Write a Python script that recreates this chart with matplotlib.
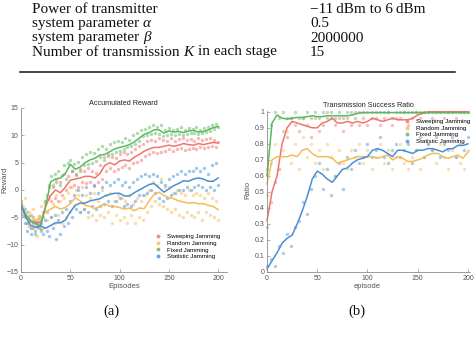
import matplotlib
matplotlib.use("Agg")
import matplotlib.pyplot as plt
from matplotlib.lines import Line2D
import numpy as np

# ---------------- data ----------------
series_names = ["Sweeping Jamming", "Random Jamming", "Fixed Jamming", "Statistic Jamming"]
colors = ["#F0736D", "#F5BC55", "#5CB860", "#4A8FD6"]

line_ep = list(range(0, 201, 5))
sc_ep_a = list(range(0, 201, 2))
sc_ep_b = list(range(0, 201, 4))

# (a) Accumulated reward: smoothed lines
reward_sweep_line = [-3, -4.8, -5.5, -6, -6, -3, -1, 0, -0.5, 0.5, 1.8, 2, 2.2, 2.5, 2.5, 2.2, 3, 4.5, 5, 4.6,
                     5.3, 5.5, 5.3, 6, 6.5, 7.1, 7.5, 7.8, 7.8, 8, 8.2, 8, 8.2, 8.5, 8.3, 8.2, 8.5, 8.3, 8.5, 8.7, 8.6]
reward_random_line = [-3, -5, -5.5, -5.5, -5, -4, -3.5, -3, -3.5, -3.2, -2.5, -1.4, -2, -2.8, -3, -3.4, -3, -2.5, -3, -3,
                      -3.2, -3.5, -3.3, -3.8, -3.3, -3.4, -2, -0.8, -0.4, -1, -1.4, -1.6, -2, -2.2, -2.4, -2.3, -2.5, -2.5, -2.8, -3, -3.6]
reward_fixed_line = [-3, -4.5, -5.8, -6.2, -6.5, -3, 1.5, 2, 2.2, 3, 4.7, 3.8, 4.2, 5, 5.5, 5.8, 6.4, 6.5, 7, 7.5,
                     7.8, 8, 8.3, 8.8, 9.5, 10.2, 10.5, 11, 11, 10.4, 10.8, 10.6, 10.7, 10.5, 10.8, 10.9, 10.6, 10.7, 11, 11.4, 11.6]
reward_stat_line = [-2.5, -5, -6.5, -6.8, -6.6, -7, -6.5, -6, -6, -5.5, -4, -2.8, -2.4, -2.4, -2, -1.8, -1.6, -1.1, -0.8, -0.6,
                    -0.6, -1.1, -1.1, -0.5, 0, 0.5, 1, 1.2, 0.4, -0.4, 0.2, 0.8, 1.2, 1.7, 1.6, 2, 2.2, 2, 1.6, 1.6, 2.2]

# (a) raw points
reward_sweep_pts = [-2, -3.5, -5, -4, -6.5, -4.5, -7, -5.5, -6.8, -4.8, -7.2, -4, -2.5, -4, 0.5, -2, 1, -1.5, 2, -2,
                    1.5, -1, 3, 0, 2.5, 0.5, 3.5, 1, 3, 0.5, 3.8, 1.5, 3.5, 1.2, 4, 1.5, 3.5, 0.8, 3.2, 1.5,
                    4.5, 2, 6, 3.5, 6.5, 4, 6, 3.5, 5.8, 3.8, 6.5, 4.2, 7, 4.5, 6.5, 4, 7, 5, 7.5, 5.2,
                    8, 5.5, 8.5, 6.2, 9, 6.5, 9.2, 7, 9, 6.8, 9.5, 7, 9.2, 7.2, 9, 7.5, 9.5, 7.2, 9, 7.5,
                    9.3, 7.6, 9.5, 7.4, 9.2, 7.5, 9.4, 7.6, 9, 7.5, 9.5, 7.8, 9.2, 7.6, 9.4, 7.8, 9.5, 8, 9.2, 7.8, 8.8]
reward_random_pts = [-2, -3, -1.5, -6, -4, -7, -3.5, -6.5, -8.5, -5, -3, -7, -2, -5.5, -1.5, -5, -2.5, -6, -1, -4.5,
                     -2, -6, -1.5, -5, -0.5, -4, 0.5, -3, 0, -1, -4, 0.5, -3.5, -1, -5, -1.5, -4.5, -0.5, -5.5, -2,
                     -4.5, 0, -5, -1, -4, -0.5, -6, -2, -4.5, -1, -5.5, -1.5, -5, -2, -6, -1, -4.5, -2.5, -6, -1.5,
                     -5, -2, -5.5, -1, -4, 0, -3, 1.5, -2, 1, -2.5, 2, -3, 0.5, -3.5, 0.5, -4, -0.5, -3.5, 0,
                     -4.5, -0.5, -5, -1, -4, 0, -4.5, -1, -5, -0.5, -4, -1, -5.5, -1.5, -4, -0.5, -4.5, -1.5, -5, -2, -5.5]
reward_fixed_pts = [-2.5, -4, -3.5, -6, -4.8, -7, -5, -8, -6.5, -5.5, -7.5, -5, -2, -1, 1, 2.5, 0.5, 3, 1.5, 3.5,
                    1, 2.8, 4.5, 2, 5, 5.5, 3.5, 4.8, 2.8, 5.2, 3.5, 6, 4.5, 6.5, 4.8, 7, 5, 6.8, 5.3, 7.5,
                    6, 8, 5.5, 7.5, 6.2, 8.5, 6.5, 8.8, 7, 9, 7.2, 8.8, 7.5, 9.5, 7.8, 9.2, 8, 10, 8.5, 10.5,
                    9, 11, 9.8, 11.2, 10, 11.5, 10.2, 11.8, 10.5, 11.5, 10.2, 11.8, 9.8, 11, 10, 11.3, 10.2, 11, 10, 11.2,
                    10.3, 11.5, 10, 11, 10.3, 11.4, 10.5, 11.2, 10.4, 11.5, 10.2, 11, 10.5, 11.3, 10.6, 11.5, 10.8, 11.8, 11.2, 12, 11.5]
reward_stat_pts = [-3, -4.5, -6, -7.5, -5.5, -8, -6, -7.5, -5.8, -7, -6, -8, -5.5, -7.5, -8.5, -5, -7, -4.5, -9, -5.5,
                   -8, -4, -6.5, -3.5, -6, -2, -5, -1, -3.5, 0, -4, -1, -3.5, 0.5, -4, -0.5, -3, 1, -3.5, -0.5,
                   -3, 0.5, -2.5, 1.5, -2, 1, -3, 1.5, -2, 2, -1.5, 1, -3, 1.5, -2.5, 0.5, -3, 1.5, -2, 2,
                   -1, 2.5, -1, 3, -0.5, 2.5, 0, 3, -0.5, 2.5, -1.5, 1.5, -2, 1, -1.5, 2, -1, 2.5, -0.5, 3,
                   0, 3.5, 0, 3, 0.5, 3.5, 0, 3.5, 0.5, 4, 1, 3.5, 0.5, 4, 0, 3, 0.5, 4.5, 0, 5, 1]

# (b) Transmission success ratio: smoothed lines
ratio_sweep_line = [0.32, 0.5, 0.6, 0.8, 0.9, 0.94, 0.93, 0.92, 0.91, 0.9, 0.9, 0.93, 0.94, 0.96, 0.93, 0.93, 0.94, 0.93, 0.94, 0.93,
                    0.94, 0.96, 0.95, 0.94, 0.95, 0.96, 0.95, 0.95, 0.95, 0.96, 0.98, 0.99, 1.0, 1.0, 1.0, 1.0, 1.0, 1.0, 1.0, 1.0, 1.0]
ratio_random_line = [0.55, 0.7, 0.72, 0.72, 0.72, 0.73, 0.72, 0.76, 0.77, 0.74, 0.72, 0.72, 0.72, 0.71, 0.68, 0.69, 0.7, 0.71, 0.72, 0.72,
                     0.72, 0.72, 0.71, 0.72, 0.73, 0.7, 0.72, 0.71, 0.69, 0.69, 0.7, 0.71, 0.73, 0.74, 0.74, 0.72, 0.71, 0.72, 0.73, 0.71, 0.75]
ratio_fixed_line = [0.6, 0.93, 0.98, 0.96, 0.955, 0.96, 0.965, 0.965, 0.97, 0.975, 0.97, 0.97, 0.975, 0.975, 0.975, 0.975, 0.975, 0.98, 0.99, 0.995,
                    0.995, 0.995, 0.995, 0.995, 0.995, 0.995, 0.995, 0.995, 0.995, 0.995, 0.995, 0.995, 0.995, 0.995, 0.995, 0.995, 0.995, 0.995, 0.995, 0.995, 0.995]
ratio_stat_line = [0.02, 0.07, 0.12, 0.18, 0.21, 0.23, 0.3, 0.38, 0.47, 0.58, 0.63, 0.61, 0.58, 0.56, 0.6, 0.64, 0.65, 0.68, 0.7, 0.71,
                   0.72, 0.76, 0.77, 0.76, 0.74, 0.72, 0.76, 0.76, 0.75, 0.74, 0.76, 0.76, 0.77, 0.77, 0.76, 0.75, 0.77, 0.77, 0.79, 0.79, 0.8]

# (b) raw points
ratio_sweep_pts = [0.28, 0.44, 0.56, 0.64, 0.88, 0.84, 0.96, 0.92, 0.88, 0.96, 0.92, 0.84, 0.96, 0.88, 0.92, 1, 0.96, 0.92, 0.96, 0.88,
                   0.96, 0.92, 1, 0.92, 0.96, 0.92, 1, 0.96, 0.92, 0.96, 1, 0.92, 0.96, 0.96, 1, 0.92, 0.96, 1, 0.96, 1,
                   1, 0.96, 1, 1, 0.96, 1, 1, 0.96, 1, 1, 1]
ratio_random_pts = [0.48, 0.68, 0.8, 0.64, 0.76, 0.88, 0.68, 0.8, 0.64, 0.84, 0.72, 0.8, 0.68, 0.76, 0.64, 0.8, 0.72, 0.6, 0.76, 0.68,
                    0.64, 0.76, 0.72, 0.8, 0.68, 0.76, 0.64, 0.72, 0.8, 0.68, 0.76, 0.64, 0.72, 0.8, 0.68, 0.64, 0.72, 0.76, 0.64, 0.72,
                    0.8, 0.76, 0.68, 0.8, 0.72, 0.64, 0.76, 0.72, 0.68, 0.64, 0.76]
ratio_fixed_pts = [0.64, 0.92, 1, 0.96, 1, 0.96, 0.96, 1, 0.96, 0.96, 1, 0.96, 1, 0.96, 1, 0.96, 1, 0.96, 1, 0.96,
                   1, 1, 0.96, 1, 1, 1, 0.96, 1, 1, 1, 1, 0.96, 1, 1, 1, 1, 1, 1, 1, 1,
                   1, 1, 1, 1, 1, 1, 1, 1, 1, 1, 1]
ratio_stat_pts = [0.04, 0.08, 0.04, 0.16, 0.12, 0.24, 0.16, 0.28, 0.32, 0.44, 0.36, 0.52, 0.6, 0.68, 0.52, 0.64, 0.48, 0.6, 0.68, 0.52,
                  0.72, 0.64, 0.76, 0.68, 0.72, 0.8, 0.72, 0.76, 0.84, 0.72, 0.68, 0.76, 0.8, 0.72, 0.76, 0.8, 0.68, 0.76, 0.84, 0.72,
                  0.8, 0.76, 0.84, 0.72, 0.8, 0.76, 0.84, 0.72, 0.8, 0.76, 0.84]

# table rows: pieces of (text, style)
table_left = [[("Power of transmitter", "normal")],
              [("system parameter", "normal"), ("\u03b1", "italic")],
              [("system parameter", "normal"), ("\u03b2", "italic")],
              [("Number of transmission", "normal"), ("K", "italic"), ("in each stage", "normal")]]
table_right = ["\u221211\u2009dBm to 6\u2009dBm", "0.5", "2000000", "15"]

# ---------------- figure ----------------
W, H = 474, 341
fig = plt.figure(figsize=(W / 100, H / 100), dpi=100)
renderer = fig.canvas.get_renderer()

def fx(px):
    return px / W

def fy(py):
    return 1 - py / H

serif = ['Liberation Serif', 'DejaVu Serif']
sans = ['Liberation Sans', 'DejaVu Sans']
tfs = 11
space_px = 0.25 * tfs * 100 / 72

# table part
row_base = [13, 27.3, 41.5, 55.5]
for parts, right, y in zip(table_left, table_right, row_base):
    x = 32
    for s, st in parts:
        t = fig.text(fx(x), fy(y), s, family=serif, style=st, fontsize=tfs, va='baseline', ha='left', color='#111111')
        bb = t.get_window_extent(renderer)
        x = bb.x1 + space_px + (1.0 if st == 'italic' else 0.0)
    fig.text(fx(310), fy(y), right, family=serif, fontsize=tfs, va='baseline', ha='left', color='#111111')
fig.add_artist(Line2D([fx(20), fx(455)], [fy(72), fy(72)], color='#111111', lw=1.1))

grey = '#8c8c8c'
tick_col = '#555555'

def style_axes(ax):
    for s in ['top', 'right']:
        ax.spines[s].set_visible(False)
    for s in ['left', 'bottom']:
        ax.spines[s].set_color(grey)
        ax.spines[s].set_linewidth(0.6)
    ax.tick_params(direction='in', length=2, width=0.5, colors=grey, labelcolor=tick_col,
                   labelsize=5, pad=2)
    ax.patch.set_alpha(0)

# ---- (a)
axa = fig.add_axes([fx(21), fy(272), fx(227) - fx(21), fy(108) - fy(272)])
style_axes(axa)
a_lines = [reward_sweep_line, reward_random_line, reward_fixed_line, reward_stat_line]
a_pts = [reward_sweep_pts, reward_random_pts, reward_fixed_pts, reward_stat_pts]
for pts, c in zip(a_pts, colors):
    axa.scatter(sc_ep_a, pts, s=6, color=c, alpha=0.5, linewidths=0)
for ln, c in zip(a_lines, colors):
    axa.plot(line_ep, ln, color=c, lw=1.1)
axa.set_xlim(0, 209)
axa.set_ylim(-15, 15)
axa.set_xticks([0, 50, 100, 150, 200])
axa.set_yticks([-15, -10, -5, 0, 5, 10, 15])
for t in axa.get_xticklabels() + axa.get_yticklabels():
    t.set_family(sans)
fig.text(fx(123), fy(104), "Accumulated Reward", family=sans, fontsize=5.2, ha='center', va='center', color='#222222')
fig.text(fx(124), fy(287), "Episodes", family=sans, fontsize=5.5, ha='center', va='center', color=tick_col)
fig.text(fx(5), fy(180), "Reward", family=sans, fontsize=5.5, ha='center', va='center', rotation=90, color=tick_col)
handles = [Line2D([], [], ls='none', marker='o', ms=2.8, color=c, alpha=0.8, mec='none') for c in colors]
axa.legend(handles, series_names, loc='lower right', bbox_to_anchor=(0.985, 0.055), frameon=False,
           prop={'family': sans, 'size': 4.4}, handletextpad=0.8, labelspacing=0.25, handlelength=1.2,
           borderaxespad=0.2)

# ---- (b)
axb = fig.add_axes([fx(267), fy(272), fx(470) - fx(267), fy(111) - fy(272)])
style_axes(axb)
b_lines = [ratio_sweep_line, ratio_random_line, ratio_fixed_line, ratio_stat_line]
b_pts = [ratio_sweep_pts, ratio_random_pts, ratio_fixed_pts, ratio_stat_pts]
for pts, c in zip(b_pts, colors):
    axb.scatter(sc_ep_b, pts, s=6, color=c, alpha=0.45, linewidths=0, clip_on=False)
for ln, c in zip(b_lines, colors):
    axb.plot(line_ep, ln, color=c, lw=1.1, clip_on=False)
axb.set_xlim(0, 202)
axb.set_ylim(0, 1.005)
axb.set_xticks([0, 50, 100, 150, 200])
axb.set_yticks([0, 0.1, 0.2, 0.3, 0.4, 0.5, 0.6, 0.7, 0.8, 0.9, 1.0])
axb.set_yticklabels(["0", "0.1", "0.2", "0.3", "0.4", "0.5", "0.6", "0.7", "0.8", "0.9", "1"])
for t in axb.get_xticklabels() + axb.get_yticklabels():
    t.set_family(sans)
fig.text(fx(368), fy(106), "Transmission Success Ratio", family=sans, fontsize=5.2, ha='center', va='center', color='#222222')
fig.text(fx(367), fy(287), "episode", family=sans, fontsize=5.5, ha='center', va='center', color=tick_col)
fig.text(fx(248), fy(190), "Ratio", family=sans, fontsize=5.5, ha='center', va='center', rotation=90, color=tick_col)
axb.legend(handles, series_names, loc='upper right', bbox_to_anchor=(1.02, 0.975), frameon=False,
           prop={'family': sans, 'size': 4.5}, handletextpad=0.9, labelspacing=0.2, handlelength=1.2,
           borderaxespad=0.2)

# captions
fig.text(fx(111), fy(311), "(a)", family=serif, fontsize=10.5, ha='center', va='center', color='#111111')
fig.text(fx(357), fy(311), "(b)", family=serif, fontsize=10.5, ha='center', va='center', color='#111111')

fig.savefig("out.png", dpi=100)
